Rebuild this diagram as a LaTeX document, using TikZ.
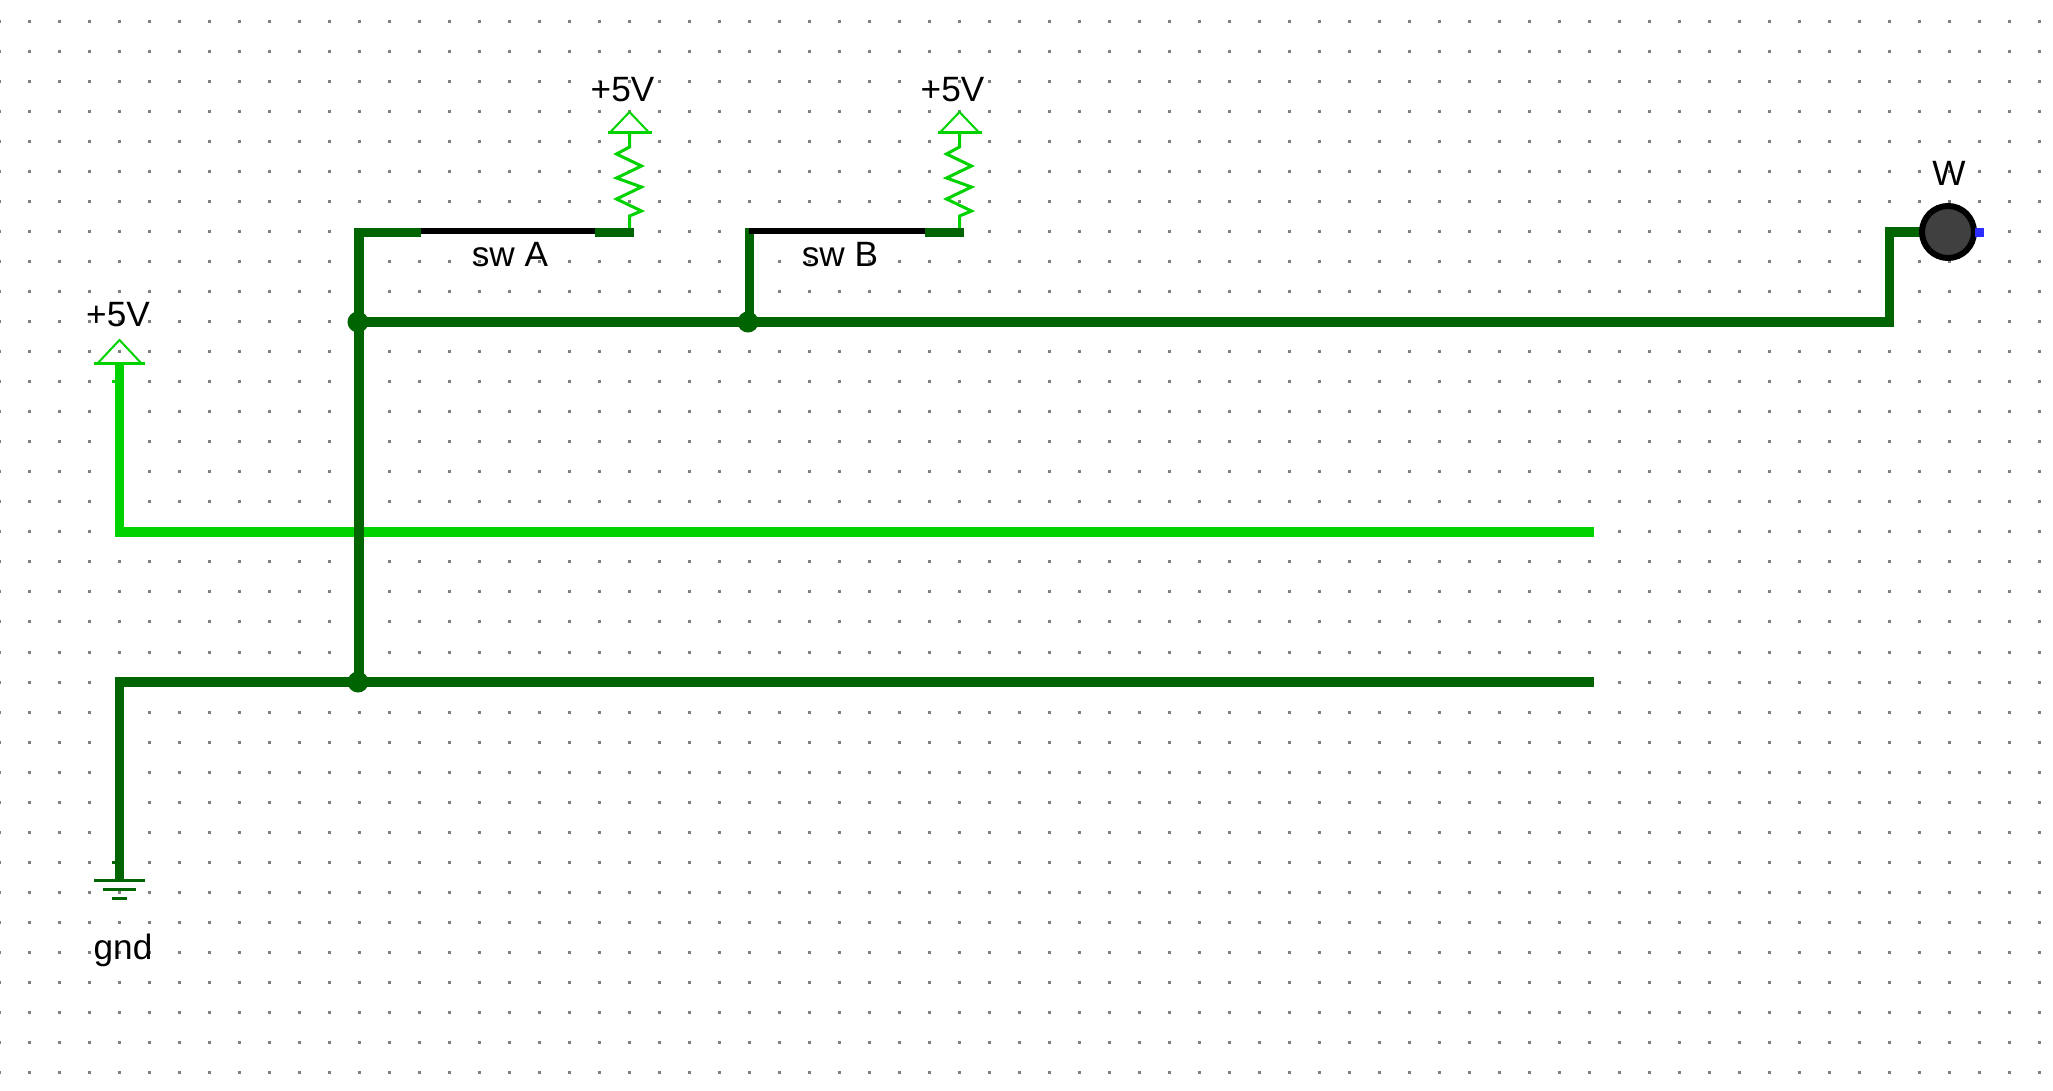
\documentclass[tikz,border=0pt]{standalone}
\usepackage{fontspec}
\setmainfont{Liberation Sans}
\definecolor{wirelo}{RGB}{0,100,0}
\definecolor{wirehi}{RGB}{0,210,0}
\definecolor{griddot}{RGB}{128,128,128}
\definecolor{lampgray}{RGB}{64,64,64}
\definecolor{lamptip}{RGB}{44,44,255}
\tikzset{
    lowire/.style={draw=wirelo, line width=0.09cm},
    hiwire/.style={draw=wirehi, line width=0.09cm},
    thinhi/.style={draw=wirehi, line width=0.03cm},
    thinlo/.style={draw=wirelo, line width=0.03cm},
    swbar/.style={draw=black, line width=0.06cm},
    junction/.style={circle, fill=wirelo, inner sep=0pt, minimum size=0.21cm},
    lbl/.style={inner sep=0pt, anchor=base, font=\fontsize{10}{12}\selectfont},
}

\begin{document}
\begin{tikzpicture}[x=0.01cm, y=-0.01cm]
    \useasboundingbox (0,0) rectangle (2053,1091);
    \clip (0,0) rectangle (2053,1091);
    \fill[white] (0,0) rectangle (2053,1091);
    % dots
    \foreach \col in {0,...,68}
        \foreach \row in {0,...,35}
            \fill[griddot] ({-2+30*\col},{20.5+30*\row}) rectangle ++(3,3);

    % named points
    \coordinate (topA) at (359,232.5);
    \coordinate (swAl) at (421,232.5);
    \coordinate (swAr) at (595,232.5);
    \coordinate (endA) at (634,232.5);
    \coordinate (topB) at (749,228);
    \coordinate (swBl) at (749,231);
    \coordinate (swBr) at (925,232.5);
    \coordinate (endB) at (964,232.5);
    \node[junction] (jA) at (358,322) {};
    \node[junction] (jB) at (748,322) {};
    \node[junction] (jG) at (358,682) {};
    \coordinate (bendW) at (1889,322);
    \coordinate (upW) at (1889,232);
    \coordinate (inW) at (1924,232);
    \coordinate (vcc) at (119.5,364);
    \coordinate (cornerV) at (119.5,532);
    \coordinate (endV) at (1594,532);
    \coordinate (cornerG) at (119.5,682);
    \coordinate (endG) at (1594,682);
    \coordinate (gnd) at (119.5,880);
    \coordinate (midA) at (359,322);
    \coordinate (midB) at (749,322);
    \coordinate (midG) at (359,682);

    % wires
    \draw[hiwire] (vcc) -- (cornerV) -- (endV);
    \draw[thinhi] (112,382) -- (116,382);
    \draw[lowire] (endA) -- (swAr);
    \draw[lowire] (swAl) -- (topA) -- (midG);
    \draw[lowire] (swBr) -- (endB);
    \draw[lowire] (topB) -- (midB);
    \draw[lowire] (midA) -- (bendW) -- (upW) -- (inW);
    \draw[lowire] (endG) -- (cornerG) -- (gnd);
    \draw[thinlo] (112,862) -- (116,862);

    % switches
    \draw[swbar] (swAl |- 0,231) -- (swAr |- 0,231);
    \draw[swbar] (swBl) -- (swBr |- swBl);
    \node[lbl] (swAtext) at (510,267) {sw A};
    \node[lbl] (swBtext) at (840,267) {sw B};

    % pull ups
    \foreach \name/\x in {A/629.5, B/959.5} {
        \coordinate (rtop\name) at (\x,133);
        \draw[thinhi] (rtop\name) -- ++(0,14) -- ++(-13,7) -- ++(25,12) -- ++(-25,12) -- ++(25,9)
            -- ++(-25,12) -- ++(25,12) -- ++(-12,5) -- ++(0,12);
        \draw[thinhi] (\x-22,133) -- (\x+22,133);
        \draw[draw=wirehi, line width=0.02cm] (\x-20,133) -- (\x,112) -- (\x+20,133);
        \node[lbl] (vcc\name) at (\x-7,102) {+5V};
    }

    % source
    \draw[thinhi] (94,364) -- (145,364);
    \draw[draw=wirehi, line width=0.02cm] (97,364) -- (119.5,340) -- (142,364);
    \node[lbl] (vcctext) at (118,327) {+5V};

    % ground
    \draw[thinlo] (94,880) -- (145,880);
    \draw[thinlo] (103,889) -- (136,889);
    \draw[thinlo] (112,898.5) -- (127,898.5);
    \node[lbl] (gndtext) at (123,959) {gnd};

    % lamp
    \fill[lamptip] (1972,231) rectangle (1975,234);
    \node[circle, draw=black, fill=lampgray, line width=0.06cm, inner sep=0pt, minimum size=0.52cm] (lamp) at (1948,232) {};
    \fill[lamptip] (1975,228) rectangle (1984,237);
    \node[lbl] (lamptext) at (1949,186) {W};
\end{tikzpicture}
\end{document}
